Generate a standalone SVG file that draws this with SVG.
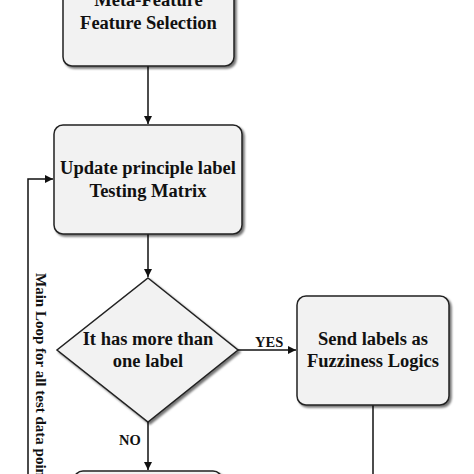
<svg xmlns="http://www.w3.org/2000/svg" width="474" height="474" viewBox="0 0 474 474">
<defs>
<filter id="sh" x="-10%" y="-10%" width="130%" height="130%">
<feDropShadow dx="2" dy="2" stdDeviation="1.2" flood-color="#000" flood-opacity="0.55"/>
</filter>
<marker id="ah" viewBox="0 0 10 10" refX="10" refY="5" markerWidth="8" markerHeight="8" markerUnits="userSpaceOnUse" orient="auto">
<path d="M0,0 L10,5 L0,10 z" fill="#111"/>
</marker>
<style>
.box{fill:#f2f2f2;stroke:#222;stroke-width:1.5;filter:url(#sh)}
.t{font-family:"Liberation Serif","Times New Roman",serif;font-weight:bold;font-size:18.5px;fill:#111;text-anchor:middle}
.s{font-family:"Liberation Serif","Times New Roman",serif;font-weight:bold;font-size:14.5px;fill:#111}
.v{font-family:"Liberation Serif","Times New Roman",serif;font-weight:bold;font-size:15px;fill:#111}
.c{fill:none;stroke:#111;stroke-width:1.5}
</style>
</defs>
<rect width="474" height="474" fill="#fff"/>
<g id="connectors">
<path class="c" d="M148,66 V124" marker-end="url(#ah)"/>
<path class="c" d="M148,234 V277" marker-end="url(#ah)"/>
<path class="c" d="M238,350 H296" marker-end="url(#ah)"/>
<path class="c" d="M148,422 V470" marker-end="url(#ah)"/>
<path class="c" d="M373,405 V474"/>
<path class="c" d="M28,474 V179 H53" marker-end="url(#ah)"/>
<text class="s" x="255" y="347">YES</text>
<text class="s" x="119" y="445">NO</text>
<text class="v" transform="translate(36,273) rotate(90)">Main Loop for all test data points</text>
</g>
<g id="meta-feature">
<rect class="box" x="63" y="-40" width="171" height="106" rx="9"/>
<text class="t" x="148.5" y="6">Meta-Feature</text>
<text class="t" x="148.5" y="29">Feature Selection</text>
</g>
<g id="update">
<rect class="box" x="54" y="125" width="188" height="109" rx="9"/>
<text class="t" x="148" y="174">Update principle label</text>
<text class="t" x="148" y="197">Testing Matrix</text>
</g>
<g id="decision">
<polygon class="box" points="148,278 238,350 148,422 57,350"/>
<text class="t" x="148" y="345">It has more than</text>
<text class="t" x="148" y="367">one label</text>
</g>
<g id="send">
<rect class="box" x="297" y="296" width="152" height="109" rx="9"/>
<text class="t" x="373" y="345">Send labels as</text>
<text class="t" x="373" y="367">Fuzziness Logics</text>
</g>
<g id="bottom">
<rect class="box" x="74" y="471" width="148" height="40" rx="9"/>
</g>
</svg>
